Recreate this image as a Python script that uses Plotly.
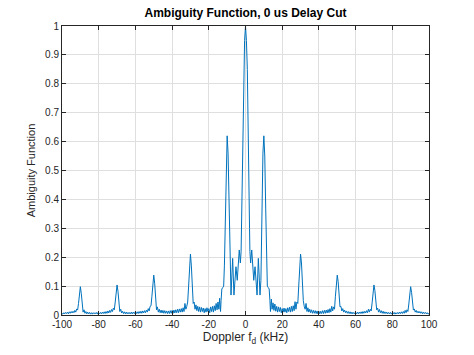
import plotly.graph_objects as go

# Zero-delay cut of the ambiguity function: (Doppler kHz, amplitude)
neg_half = [
    (-100.0, 0.006), (-99.5, 0.003), (-99.0, 0.008), (-98.5, 0.004), (-98.0, 0.009), (-97.5, 0.005),
    (-97.0, 0.010), (-96.5, 0.004), (-96.0, 0.011), (-95.5, 0.006), (-95.0, 0.012), (-94.5, 0.007),
    (-94.0, 0.013), (-93.5, 0.008), (-93.0, 0.016), (-92.5, 0.010), (-92.0, 0.021), (-91.5, 0.017),
    (-91.0, 0.040), (-90.5, 0.078), (-90.0, 0.098), (-89.5, 0.075), (-89.0, 0.038), (-88.5, 0.010),
    (-88.0, 0.018), (-87.5, 0.006), (-87.0, 0.012), (-86.5, 0.004), (-86.0, 0.010), (-85.5, 0.004),
    (-85.0, 0.009), (-84.5, 0.003), (-84.0, 0.008), (-83.5, 0.003), (-83.0, 0.008), (-82.5, 0.004),
    (-82.0, 0.008), (-81.5, 0.004), (-81.0, 0.009), (-80.5, 0.003), (-80.0, 0.008), (-79.5, 0.004),
    (-79.0, 0.009), (-78.5, 0.004), (-78.0, 0.010), (-77.5, 0.005), (-77.0, 0.011), (-76.5, 0.005),
    (-76.0, 0.012), (-75.5, 0.006), (-75.0, 0.014), (-74.5, 0.007), (-74.0, 0.016), (-73.5, 0.009),
    (-73.0, 0.019), (-72.5, 0.012), (-72.0, 0.024), (-71.5, 0.018), (-71.0, 0.045), (-70.5, 0.085),
    (-70.0, 0.104), (-69.5, 0.082), (-69.0, 0.042), (-68.5, 0.012), (-68.0, 0.020), (-67.5, 0.007),
    (-67.0, 0.013), (-66.5, 0.005), (-66.0, 0.011), (-65.5, 0.004), (-65.0, 0.010), (-64.5, 0.004),
    (-64.0, 0.009), (-63.5, 0.004), (-63.0, 0.009), (-62.5, 0.004), (-62.0, 0.010), (-61.5, 0.004),
    (-61.0, 0.010), (-60.5, 0.005), (-60.0, 0.011), (-59.5, 0.005), (-59.0, 0.011), (-58.5, 0.005),
    (-58.0, 0.012), (-57.5, 0.006), (-57.0, 0.013), (-56.5, 0.006), (-56.0, 0.014), (-55.5, 0.007),
    (-55.0, 0.015), (-54.5, 0.008), (-54.0, 0.017), (-53.5, 0.010), (-53.0, 0.022), (-52.5, 0.014),
    (-52.0, 0.030), (-51.5, 0.032), (-51.0, 0.065), (-50.5, 0.115), (-50.0, 0.138), (-49.5, 0.110),
    (-49.0, 0.062), (-48.5, 0.018), (-48.0, 0.028), (-47.5, 0.010), (-47.0, 0.020), (-46.5, 0.008),
    (-46.0, 0.017), (-45.5, 0.007), (-45.0, 0.016), (-44.5, 0.006), (-44.0, 0.015), (-43.5, 0.006),
    (-43.0, 0.014), (-42.5, 0.005), (-42.0, 0.014), (-41.5, 0.005), (-41.0, 0.015), (-40.5, 0.006),
    (-40.0, 0.016), (-39.5, 0.006), (-39.0, 0.017), (-38.5, 0.007), (-38.0, 0.018), (-37.5, 0.008),
    (-37.0, 0.020), (-36.5, 0.008), (-36.0, 0.021), (-35.5, 0.010), (-35.0, 0.022), (-34.5, 0.010),
    (-34.0, 0.025), (-33.5, 0.012), (-33.0, 0.040), (-32.5, 0.020), (-32.0, 0.030), (-31.5, 0.045),
    (-31.0, 0.100), (-30.5, 0.180), (-30.0, 0.211), (-29.5, 0.170), (-29.0, 0.100), (-28.5, 0.040),
    (-28.0, 0.045), (-27.5, 0.020), (-27.0, 0.035), (-26.5, 0.015), (-26.0, 0.030), (-25.5, 0.012),
    (-25.0, 0.028), (-24.5, 0.010), (-24.0, 0.026), (-23.5, 0.012), (-23.0, 0.024), (-22.5, 0.008),
    (-22.0, 0.022), (-21.5, 0.010), (-21.0, 0.025), (-20.5, 0.012), (-20.0, 0.022), (-19.5, 0.008),
    (-19.0, 0.028), (-18.5, 0.012), (-18.0, 0.030), (-17.5, 0.010), (-17.0, 0.032), (-16.5, 0.015),
    (-16.0, 0.040), (-15.5, 0.018), (-15.0, 0.045), (-14.5, 0.020), (-14.1, 0.058), (-13.6, 0.012),
    (-13.3, 0.050), (-12.9, 0.090), (-12.4, 0.095), (-11.9, 0.100), (-11.5, 0.170), (-11.0, 0.370),
    (-10.5, 0.550), (-10.0, 0.620), (-9.5, 0.560), (-9.0, 0.380), (-8.4, 0.120), (-7.9, 0.069),
    (-7.0, 0.196), (-6.3, 0.069), (-5.2, 0.167), (-4.5, 0.120), (-3.4, 0.225), (-2.8, 0.180),
    (-2.4, 0.220), (-2.2, 0.300), (-1.9, 0.500), (-1.5, 0.680), (-1.0, 0.850), (-0.5, 0.950),
]

pos_half = [
    (0.0, 1.000), (0.5, 0.950), (1.0, 0.850), (1.5, 0.680), (1.9, 0.500), (2.2, 0.300),
    (2.4, 0.220), (2.8, 0.180), (3.4, 0.225), (4.5, 0.120), (5.2, 0.167), (6.3, 0.069),
    (7.0, 0.196), (7.9, 0.069), (8.4, 0.120), (9.0, 0.380), (9.5, 0.560), (10.0, 0.620),
    (10.5, 0.550), (11.0, 0.370), (11.5, 0.170), (11.9, 0.100), (12.4, 0.095), (12.9, 0.090),
    (13.3, 0.050), (13.6, 0.012), (14.1, 0.055), (14.5, 0.020), (15.0, 0.042), (15.5, 0.016),
    (16.0, 0.038), (16.5, 0.013), (17.0, 0.030), (17.5, 0.010), (18.0, 0.028), (18.5, 0.012),
    (19.0, 0.026), (19.5, 0.008), (20.0, 0.022), (20.5, 0.010), (21.0, 0.024), (21.5, 0.010),
    (22.0, 0.022), (22.5, 0.008), (23.0, 0.025), (23.5, 0.012), (24.0, 0.027), (24.5, 0.010),
    (25.0, 0.030), (25.5, 0.012), (26.0, 0.032), (26.5, 0.015), (27.0, 0.046), (27.5, 0.020),
    (28.0, 0.045), (28.5, 0.040), (29.0, 0.100), (29.5, 0.170), (30.0, 0.211), (30.5, 0.180),
    (31.0, 0.100), (31.5, 0.050), (32.0, 0.030), (32.5, 0.020), (33.0, 0.040), (33.5, 0.012),
    (34.0, 0.025), (34.5, 0.010), (35.0, 0.020), (35.5, 0.008), (36.0, 0.018), (36.5, 0.006),
    (37.0, 0.016), (37.5, 0.006), (38.0, 0.015), (38.5, 0.005), (39.0, 0.014), (39.5, 0.004),
    (40.0, 0.013), (40.5, 0.004), (41.0, 0.013), (41.5, 0.005), (42.0, 0.015), (42.5, 0.005),
    (43.0, 0.016), (43.5, 0.006), (44.0, 0.017), (44.5, 0.007), (45.0, 0.019), (45.5, 0.008),
    (46.0, 0.022), (46.5, 0.010), (47.0, 0.030), (47.5, 0.014), (48.0, 0.028), (48.5, 0.020),
    (49.0, 0.065), (49.5, 0.110), (50.0, 0.138), (50.5, 0.115), (51.0, 0.062), (51.5, 0.028),
    (52.0, 0.030), (52.5, 0.014), (53.0, 0.022), (53.5, 0.010), (54.0, 0.017), (54.5, 0.008),
    (55.0, 0.014), (55.5, 0.006), (56.0, 0.012), (56.5, 0.005), (57.0, 0.011), (57.5, 0.004),
    (58.0, 0.010), (58.5, 0.004), (59.0, 0.009), (59.5, 0.004), (60.0, 0.009), (60.5, 0.004),
    (61.0, 0.010), (61.5, 0.004), (62.0, 0.010), (62.5, 0.005), (63.0, 0.011), (63.5, 0.005),
    (64.0, 0.012), (64.5, 0.006), (65.0, 0.013), (65.5, 0.007), (66.0, 0.015), (66.5, 0.008),
    (67.0, 0.020), (67.5, 0.010), (68.0, 0.020), (68.5, 0.014), (69.0, 0.042), (69.5, 0.082),
    (70.0, 0.104), (70.5, 0.085), (71.0, 0.045), (71.5, 0.018), (72.0, 0.024), (72.5, 0.010),
    (73.0, 0.019), (73.5, 0.008), (74.0, 0.015), (74.5, 0.006), (75.0, 0.013), (75.5, 0.005),
    (76.0, 0.011), (76.5, 0.005), (77.0, 0.010), (77.5, 0.004), (78.0, 0.009), (78.5, 0.004),
    (79.0, 0.009), (79.5, 0.003), (80.0, 0.008), (80.5, 0.004), (81.0, 0.009), (81.5, 0.003),
    (82.0, 0.008), (82.5, 0.004), (83.0, 0.009), (83.5, 0.004), (84.0, 0.010), (84.5, 0.005),
    (85.0, 0.011), (85.5, 0.005), (86.0, 0.012), (86.5, 0.006), (87.0, 0.016), (87.5, 0.008),
    (88.0, 0.018), (88.5, 0.012), (89.0, 0.038), (89.5, 0.075), (90.0, 0.098), (90.5, 0.078),
    (91.0, 0.040), (91.5, 0.017), (92.0, 0.021), (92.5, 0.010), (93.0, 0.016), (93.5, 0.008),
    (94.0, 0.013), (94.5, 0.007), (95.0, 0.012), (95.5, 0.006), (96.0, 0.011), (96.5, 0.004),
    (97.0, 0.010), (97.5, 0.005), (98.0, 0.009), (98.5, 0.004), (99.0, 0.008), (99.5, 0.003),
    (100.0, 0.006),
]

x_tick_vals = [-100, -80, -60, -40, -20, 0, 20, 40, 60, 80, 100]
x_tick_text = ["-100", "-80", "-60", "-40", "-20", "0", "20", "40", "60", "80", "100"]
y_tick_vals = [0, 0.1, 0.2, 0.3, 0.4, 0.5, 0.6, 0.7, 0.8, 0.9, 1]
y_tick_text = ["0", "0.1", "0.2", "0.3", "0.4", "0.5", "0.6", "0.7", "0.8", "0.9", "1"]

doppler_khz = [p[0] for p in neg_half + pos_half]
ambiguity = [p[1] for p in neg_half + pos_half]

AX = "#262626"
GRID = "#dfdfdf"
FONT = "Liberation Sans, Arial, sans-serif"

fig = go.Figure()
fig.add_trace(go.Scatter(x=doppler_khz, y=ambiguity, mode="lines",
                         line=dict(color="#0072BD", width=1), showlegend=False))

axis_common = dict(showline=True, linecolor=AX, linewidth=1, mirror="ticks",
                   ticks="inside", ticklen=4, tickcolor=AX, showgrid=True,
                   gridcolor=GRID, gridwidth=1, zeroline=False, automargin=False,
                   tickfont=dict(family=FONT, size=10, color=AX))

fig.update_xaxes(range=[-100, 100], tickvals=x_tick_vals, ticktext=x_tick_text,
                 title=dict(text="Doppler f<sub>d</sub> (kHz)", standoff=3,
                            font=dict(family=FONT, size=12, color=AX)),
                 **axis_common)
fig.update_yaxes(range=[0, 1], tickvals=y_tick_vals, ticktext=y_tick_text,
                 title=dict(text="Ambiguity Function", standoff=7,
                            font=dict(family=FONT, size=11, color=AX)),
                 **axis_common)

fig.update_layout(
    width=474, height=355,
    margin=dict(l=62, r=45, t=26, b=40, pad=0),
    paper_bgcolor="white", plot_bgcolor="white",
    title=dict(text="<b>Ambiguity Function, 0 us Delay Cut</b>",
               x=(62 + 429) / 2 / 474, xanchor="center",
               y=1 - 13 / 355, yanchor="middle",
               font=dict(family=FONT, size=12, color="black")),
)

fig.write_html("out.html", config={"displayModeBar": False},
               post_script="document.body.style.margin='0';")
